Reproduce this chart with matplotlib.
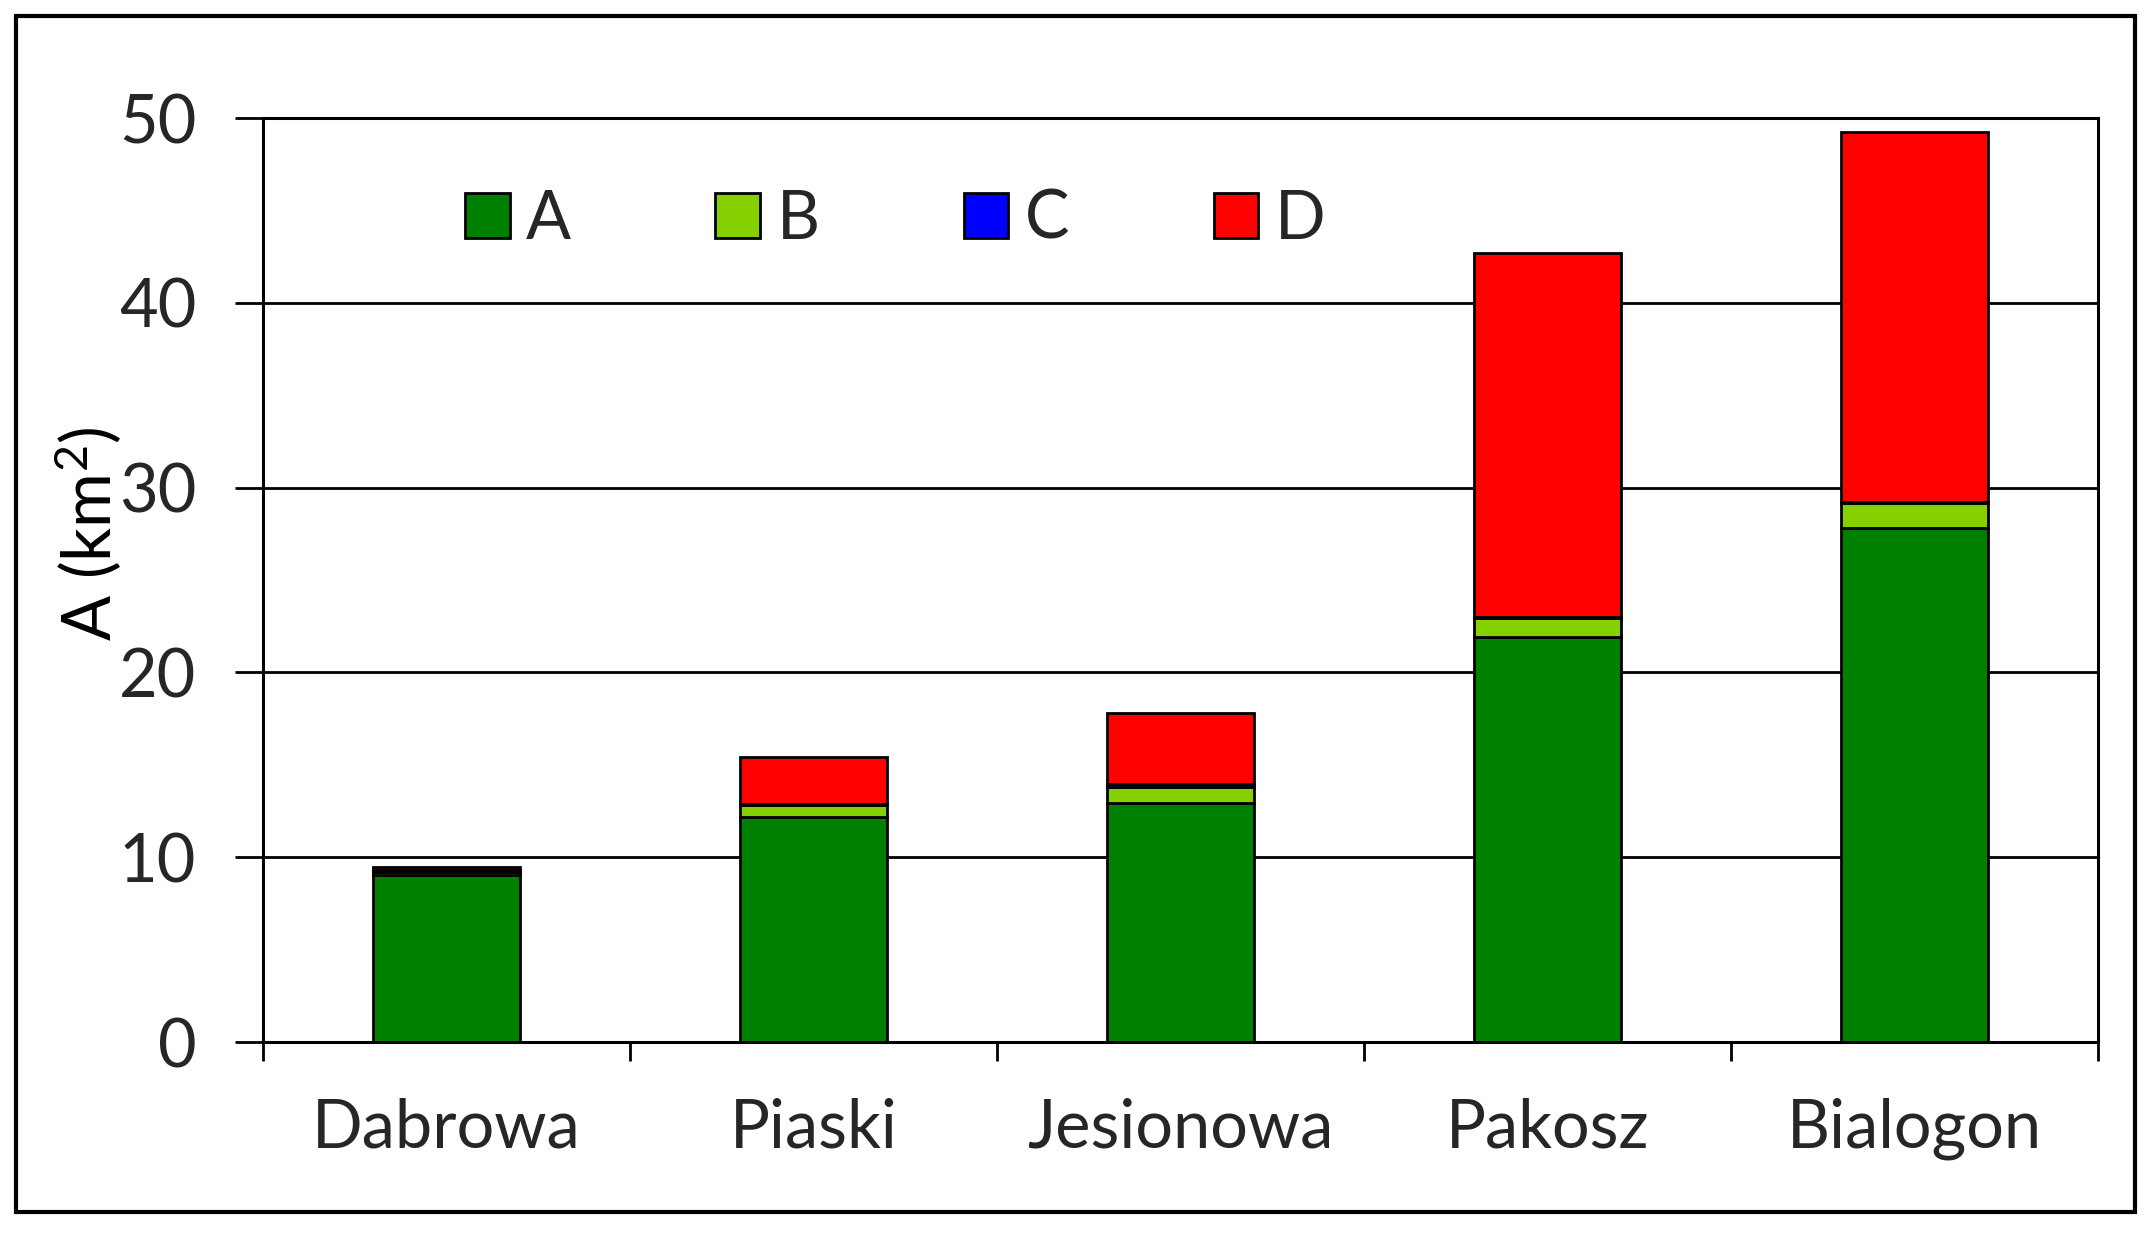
import numpy as np
import matplotlib.pyplot as plt
from matplotlib.patches import Rectangle

plt.rcParams['font.family'] = ['Lato', 'DejaVu Sans']
plt.rcParams['mathtext.default'] = 'regular'
plt.rcParams['text.color'] = '#262626'
plt.rcParams['xtick.labelcolor'] = '#262626'
plt.rcParams['ytick.labelcolor'] = '#262626'

sites = ["Dabrowa", "Piaski", "Jesionowa", "Pakosz", "Bialogon"]
A = [9.05, 12.2, 12.95, 21.9, 27.8]
B = [0.15, 0.65, 0.85, 1.05, 1.35]
C = [0.1, 0.05, 0.15, 0.05, 0.05]
D = [0.15, 2.5, 3.85, 19.7, 20.05]
series = {"A": A, "B": B, "C": C, "D": D}
colors = {"A": "#008000", "B": "#84D000", "C": "#0000FF", "D": "#FF0000"}

W, H = 2150, 1237
fig = plt.figure(figsize=(W / 200, H / 200), dpi=200)
ax = fig.add_axes([263 / W, 1 - 1042 / H, (2098 - 263) / W, (1042 - 118) / H])

x = np.arange(len(sites))
bottom = np.zeros(len(sites))
for name, vals in series.items():
    ax.bar(x, vals, width=0.4, bottom=bottom, color=colors[name],
           edgecolor="black", linewidth=1.0, label=name, zorder=3)
    bottom += np.array(vals)

ax.set_xlim(-0.5, len(sites) - 0.5)
ax.set_ylim(0, 50)
ax.set_yticks(np.arange(0, 51, 10))
ax.yaxis.grid(True, color="black", linewidth=1.0)
ax.set_axisbelow(True)

ax.set_xticks(np.arange(-0.5, len(sites), 1))
ax.set_xticklabels([])
ax.set_xticks(x, minor=True)
ax.set_xticklabels(sites, minor=True)
ax.tick_params(axis="x", which="major", direction="out", length=7, width=1.0)
ax.tick_params(axis="x", which="minor", length=0, pad=20, labelsize=24)
ax.tick_params(axis="y", direction="out", length=10, width=1.0, pad=14, labelsize=24)

for sp in ax.spines.values():
    sp.set_color("black")
    sp.set_linewidth(1.1)

ax.set_ylabel("A (km$^{2}$)", fontsize=24, labelpad=-2)
ax.yaxis.label.set_y(0.55)

ax.legend(loc="center left", bbox_to_anchor=(0.11, 0.89), ncol=4, frameon=False,
          fontsize=24, handlelength=0.67, handleheight=0.67, handletextpad=0.25,
          columnspacing=2.16, borderpad=0, borderaxespad=0)

fig.patches.append(Rectangle((16 / W, 1 - 1212 / H), (2135 - 16) / W, (1212 - 16) / H,
                             transform=fig.transFigure, fill=False,
                             edgecolor="black", linewidth=1.5))

fig.savefig("out.png", dpi=200, facecolor="white")
